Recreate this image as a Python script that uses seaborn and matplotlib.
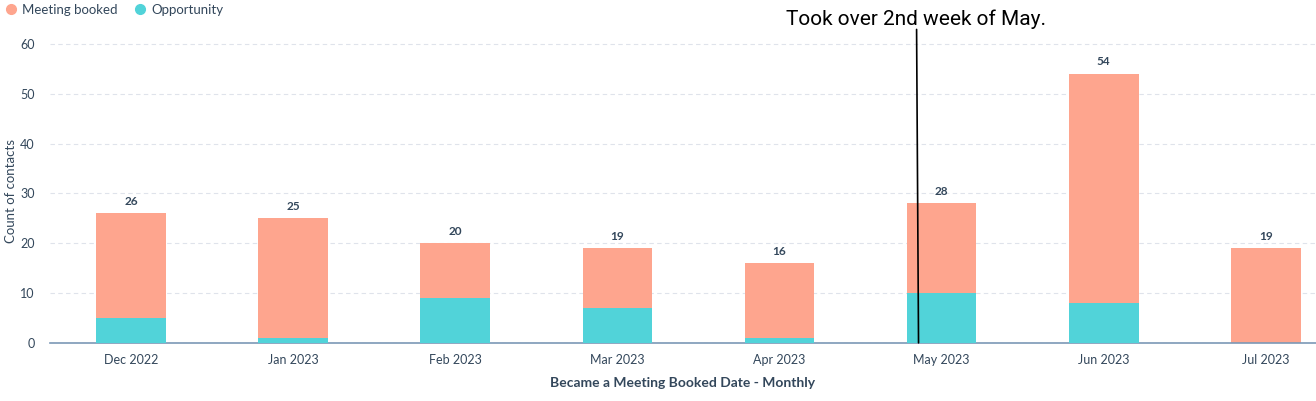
import pandas as pd
import numpy as np
import seaborn as sns
import matplotlib.pyplot as plt
from matplotlib.lines import Line2D

# Data
months = ['Dec 2022', 'Jan 2023', 'Feb 2023', 'Mar 2023', 'Apr 2023',
          'May 2023', 'Jun 2023', 'Jul 2023']
totals = [26, 25, 20, 19, 16, 28, 54, 19]
opportunity = [5, 1, 9, 7, 1, 10, 8, 0]
y_ticks = [0, 10, 20, 30, 40, 50, 60]
note_text = 'Took over 2nd week of May.'

df = pd.DataFrame({'month': months, 'total': totals, 'opportunity': opportunity})

sns.set_theme(style='white')
plt.rcParams['font.family'] = ['Lato', 'DejaVu Sans']

salmon = '#fea58e'
teal = '#51d3d9'
ink = '#33475b'

fig = plt.figure(figsize=(13.16, 4.01), dpi=100)
ax = fig.add_axes([0.038, 0.145, 0.962, 0.758])

# stacked bars: full total in salmon, opportunity part in teal on top of it
sns.barplot(data=df, x='month', y='total', color=salmon, width=0.43,
            saturation=1, linewidth=0, ax=ax, zorder=2)
sns.barplot(data=df, x='month', y='opportunity', color=teal, width=0.43,
            saturation=1, linewidth=0, ax=ax, zorder=3)

ax.set_ylim(0, 61)
ax.set_xlim(-0.5, 7.31)
ax.set_yticks(y_ticks)
ax.yaxis.grid(True, color='#dfe3eb', linestyle=(0, (4, 3)), linewidth=0.8)
ax.set_axisbelow(True)
for s in ['top', 'right', 'left']:
    ax.spines[s].set_visible(False)
ax.spines['bottom'].set_color('#7c98b6')
ax.spines['bottom'].set_linewidth(1.2)
ax.tick_params(axis='both', length=0, labelsize=9, labelcolor=ink, pad=8)
ax.tick_params(axis='y', pad=11)

# totals above bars
for i, t in enumerate(totals):
    ax.text(i, t + 2.4, str(t), ha='center', va='center', fontsize=8.5,
            fontweight='bold', color=ink)

ax.set_xlabel('Became a Meeting Booked Date - Monthly', fontsize=10,
              fontweight='bold', color=ink, labelpad=8)
ax.set_ylabel('Count of contacts', fontsize=9.5, color=ink)
ax.yaxis.set_label_coords(-0.026, 0.5)

# annotation line and note
ax.plot([4.846, 4.858], [62.9, 0], color='black', linewidth=1.2,
        clip_on=False, zorder=5)
fig.text(0.696, 0.952, note_text, ha='center', va='center', fontsize=15,
         family=['Roboto', 'DejaVu Sans'], color='black')

# legend in top-left corner
handles = [Line2D([], [], marker='o', linestyle='', markersize=7,
                  color=salmon, label='Meeting booked'),
           Line2D([], [], marker='o', linestyle='', markersize=7,
                  color=teal, label='Opportunity')]
fig.legend(handles=handles, loc='upper left', bbox_to_anchor=(0.0, 1.0),
           ncol=2, frameon=False, fontsize=9.5, handletextpad=0.35,
           columnspacing=1.2, labelcolor=ink, borderpad=0.1,
           borderaxespad=0.2, handlelength=1.0)

plt.savefig('out.png', dpi=100)
